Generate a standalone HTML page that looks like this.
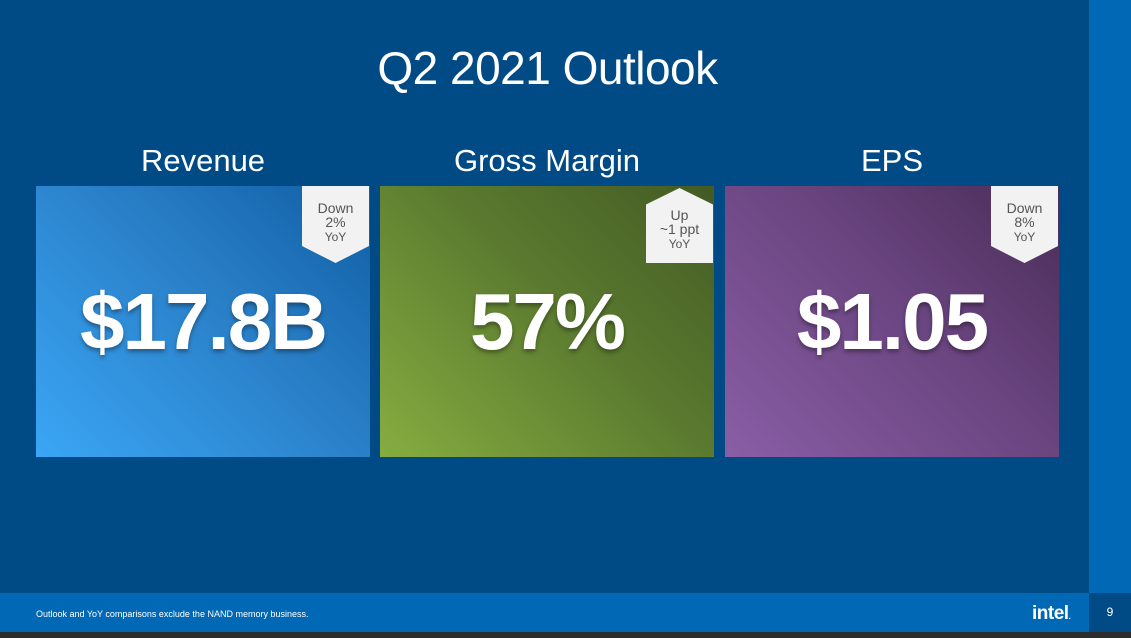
<!DOCTYPE html>
<html><head><meta charset="utf-8"><style>
body{margin:0;width:1131px;height:638px;overflow:hidden;background:#004a86;font-family:"Liberation Sans",sans-serif;position:relative}
div{position:absolute}
.h{color:#fff;font-size:31px;text-align:center;width:334px;top:143px}
.card{top:186px;width:334px;height:271px}
.big{color:#fff;font-size:80px;font-weight:bold;width:100%;text-align:center;top:90px;letter-spacing:-2px;text-shadow:0 3px 4px rgba(0,0,0,.35)}
.badge{background:#f2f2f2;color:#555;font-size:14px;line-height:14px;text-align:center;width:67px;height:77px;right:1px;top:0}
.down{clip-path:polygon(0 0,100% 0,100% 78%,50% 100%,0 78%)}
.up{top:2px;height:75px;clip-path:polygon(0 22%,50% 0,100% 22%,100% 100%,0 100%)}
</style></head><body>
<div style="left:1089px;top:0;width:42px;height:593px;background:#0068b5"></div>
<div style="left:1089px;top:593px;width:42px;height:39px;background:#004a86;color:#fff;font-size:12px;text-align:center;line-height:39px">9</div>
<div style="left:0;top:593px;width:1089px;height:39px;background:#0068b5"></div>
<div style="left:36px;top:609px;color:#fff;font-size:9px">Outlook and YoY comparisons exclude the NAND memory business.</div>
<div style="left:1032px;top:603px;color:#fff;font-size:19px;font-weight:bold;letter-spacing:-0.5px">intel<span style="font-size:8px">.</span></div>
<div style="left:0;top:632px;width:1131px;height:6px;background:#2d2d2d"></div>
<div style="left:0;top:41px;width:1095px;text-align:center;color:#fff;font-size:46px;letter-spacing:-0.5px">Q2 2021 Outlook</div>
<div class="h" style="left:36px">Revenue</div>
<div class="h" style="left:380px">Gross Margin</div>
<div class="h" style="left:725px">EPS</div>
<div class="card" style="left:36px;background:linear-gradient(225deg,#0f5ea3 0%,#2a80c8 45%,#3aa6f5 100%)">
<div class="badge down"><div style="position:static;padding-top:15px">Down<br>2%<br><span style="font-size:12px">YoY</span></div></div>
<div class="big">$17.8B</div></div>
<div class="card" style="left:380px;background:linear-gradient(225deg,#435b24 0%,#5b7a2f 45%,#86ad40 100%)">
<div class="badge up"><div style="position:static;padding-top:20px">Up<br>~1 ppt<br><span style="font-size:12px">YoY</span></div></div>
<div class="big">57%</div></div>
<div class="card" style="left:725px;background:linear-gradient(225deg,#4a2c57 0%,#6a4580 45%,#8a5ea6 100%)">
<div class="badge down"><div style="position:static;padding-top:15px">Down<br>8%<br><span style="font-size:12px">YoY</span></div></div>
<div class="big">$1.05</div></div>
</body></html>
